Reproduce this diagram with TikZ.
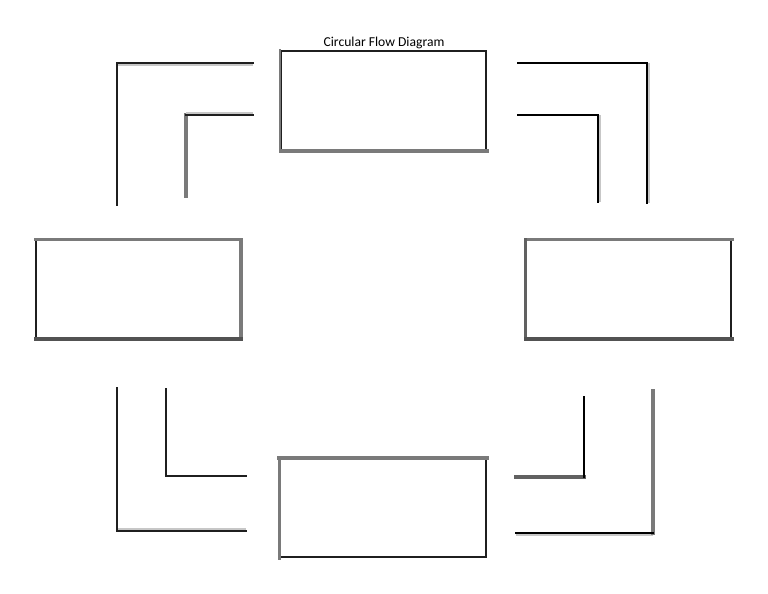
\documentclass[tikz,border=0pt]{standalone}
\usepackage{fontspec}
\setmainfont{Carlito}
\begin{document}
\begin{tikzpicture}[x=1pt,y=-1pt,
  box/.style={draw=black!88, line width=1.8pt, rectangle, fill=white, inner sep=0pt},
  dk/.style={draw=black!88, line width=1.9pt, line cap=rect},
  gr/.style={draw=black!52, line width=3.2pt, line cap=rect},
  shad/.style={draw=black!22, line width=2.4pt}]
\useasboundingbox (0,0) rectangle (768,594);
% boxes
\node[box, minimum width=205pt, minimum height=99pt] (top) at (383.5,100.5) {};
\node[box, minimum width=204pt, minimum height=98pt] (left) at (138,289) {};
\node[box, minimum width=205pt, minimum height=98pt] (right) at (628.5,289) {};
\node[box, minimum width=206pt, minimum height=98pt] (bottom) at (383,508) {};
% gray shaded edges
\draw[gr] (top.south west) -- (top.south east);
\draw[gr, line width=2.6pt] (top.north west) -- (top.south west);
\draw[gr] (left.north west) -- (left.north east);
\draw[gr] (left.north east) -- (left.south east);
\draw[gr, draw=black!68] (left.south west) -- (left.south east);
\draw[gr] (right.north west) -- (right.north east);
\draw[gr, draw=black!62, line width=2.8pt] (right.north west) -- (right.south west);
\draw[gr, draw=black!68] (right.south west) -- (right.south east);
\draw[gr, line width=3.6pt] (bottom.north west) -- (bottom.north east);
\draw[gr] (bottom.north west) -- (bottom.south west);
% title
\node[font=\fontsize{13.6}{16}\selectfont, anchor=base] (title) at (384,47) {Circular Flow Diagram};
% top-left flows
\coordinate (tlo1) at (117,205); \coordinate (tlo2) at (117,63); \coordinate (tlo3) at (253,63);
\coordinate (tli1) at (186,196); \coordinate (tli2) at (186,115); \coordinate (tli3) at (253,115);
\draw[shad] ([yshift=-2pt]tlo2) -- ([yshift=-2pt]tlo3);
\draw[dk] (tlo1) -- (tlo2) -- (tlo3);
\draw[gr] (tli1) -- (tli2);
\draw[shad] ([yshift=2pt]tli2) -- ([yshift=2pt]tli3);
\draw[dk] (tli2) -- (tli3);
% top-right flows
\coordinate (tro1) at (518,63); \coordinate (tro2) at (647,63); \coordinate (tro3) at (647,203);
\coordinate (tri1) at (518,115); \coordinate (tri2) at (598,115); \coordinate (tri3) at (598,202);
\draw[shad] ([xshift=1.5pt]tro2) -- ([xshift=1.5pt]tro3);
\draw[shad] ([xshift=1.5pt]tri2) -- ([xshift=1.5pt]tri3);
\draw[dk, draw=black] (tro1) -- (tro2) -- (tro3);
\draw[dk, draw=black] (tri1) -- (tri2) -- (tri3);
% bottom-left flows
\coordinate (blo1) at (117,388); \coordinate (blo2) at (117,531); \coordinate (blo3) at (246,531);
\coordinate (bli1) at (166,389); \coordinate (bli2) at (166,476); \coordinate (bli3) at (246,476);
\draw[shad] ([yshift=1.5pt]blo2) -- ([yshift=1.5pt]blo3);
\draw[dk] (blo1) -- (blo2) -- (blo3);
\draw[dk] (bli1) -- (bli2) -- (bli3);
% bottom-right flows
\coordinate (bri1) at (516,477); \coordinate (bri2) at (584,477); \coordinate (bri3) at (584,397);
\coordinate (bro1) at (516,533); \coordinate (bro2) at (653,533); \coordinate (bro3) at (653,391);
\draw[gr, draw=black!62] (bri1) -- (bri2);
\draw[dk, draw=black] (bri2) -- (bri3);
\draw[shad] ([yshift=-2pt]bro1) -- ([yshift=-2pt]bro2);
\draw[gr] (bro2) -- (bro3);
\draw[dk, draw=black] (bro1) -- (bro2);
\end{tikzpicture}
\end{document}
